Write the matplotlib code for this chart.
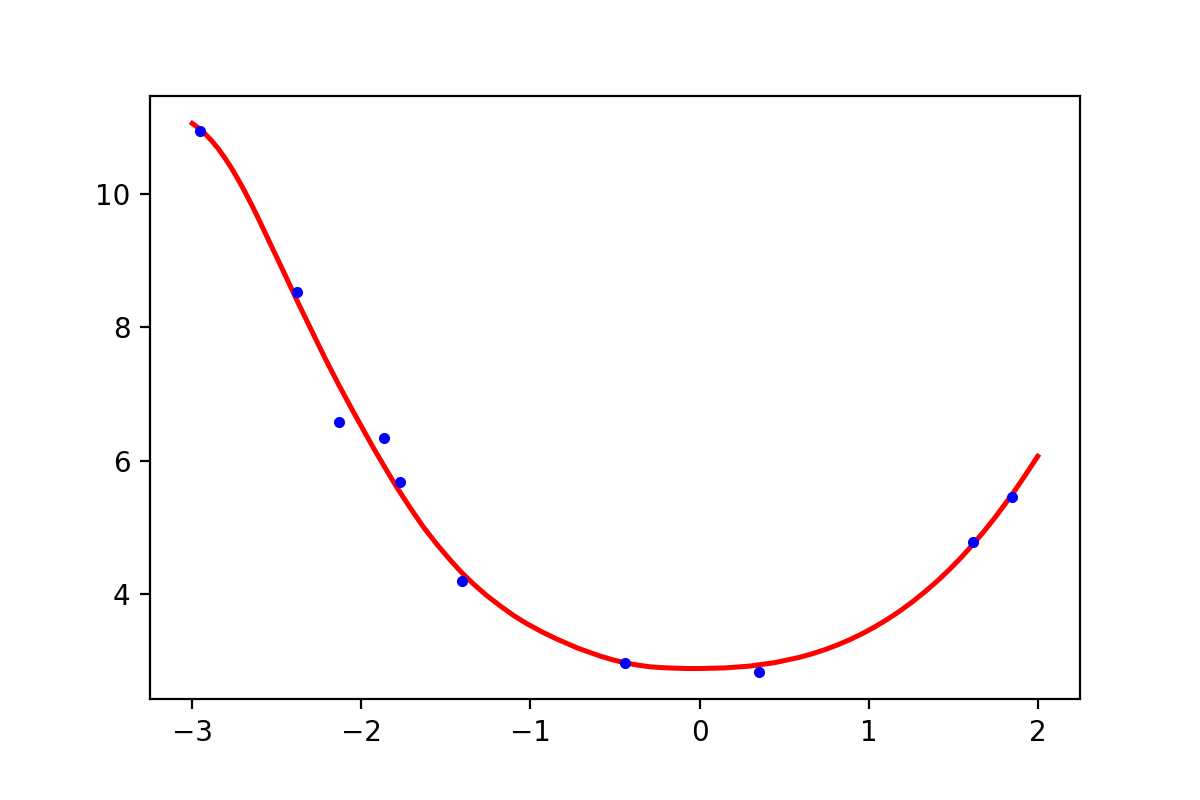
import matplotlib
matplotlib.use("Agg")
import matplotlib.pyplot as plt

# Observed sample points
x_points = [-2.954, -2.378, -2.130, -1.864, -1.769, -1.403, -0.439, 0.352, 1.619, 1.850]
y_points = [10.958, 8.529, 6.584, 6.344, 5.686, 4.190, 2.963, 2.828, 4.773, 5.447]

# Fitted curve
x_curve = [-3.000, -2.962, -2.924, -2.885, -2.846, -2.806, -2.766, -2.727, -2.688,
           -2.648, -2.609, -2.530, -2.451, -2.373, -2.293, -2.215, -2.136, -2.047,
           -1.929, -1.860, -1.791, -1.712, -1.633, -1.554, -1.475, -1.407, -1.338,
           -1.259, -1.180, -1.101, -1.022, -0.933, -0.844, -0.716, -0.588, -0.515,
           -0.441, -0.367, -0.293, -0.219, -0.145, -0.071, 0.003, 0.151, 0.299,
           0.446, 0.594, 0.668, 0.742, 0.816, 0.890, 0.964, 1.038, 1.112, 1.186,
           1.260, 1.334, 1.408, 1.482, 1.551, 1.619, 1.683, 1.747, 1.850, 1.925,
           2.000]
y_curve = [11.065, 10.994, 10.908, 10.804, 10.684, 10.542, 10.385, 10.215, 10.034,
           9.838, 9.636, 9.211, 8.788, 8.364, 7.946, 7.539, 7.149, 6.730,
           6.192, 5.893, 5.601, 5.294, 5.002, 4.744, 4.508, 4.319, 4.149,
           3.973, 3.820, 3.676, 3.551, 3.429, 3.319, 3.179, 3.064, 3.009,
           2.963, 2.929, 2.903, 2.890, 2.882, 2.877, 2.877, 2.886, 2.914,
           2.966, 3.047, 3.100, 3.161, 3.232, 3.312, 3.403, 3.505, 3.618, 3.743,
           3.881, 4.032, 4.196, 4.375, 4.555, 4.748, 4.940, 5.144, 5.496, 5.776,
           6.065]

fig = plt.figure(figsize=(6, 4), dpi=200)
ax = fig.add_subplot(111)
fig.subplots_adjust(left=0.125, right=0.9, top=0.88, bottom=0.126)
ax.plot(x_curve, y_curve, 'r-', lw=1.8)
ax.plot(x_points, y_points, 'b.')
fig.savefig("out.png", dpi=200)
